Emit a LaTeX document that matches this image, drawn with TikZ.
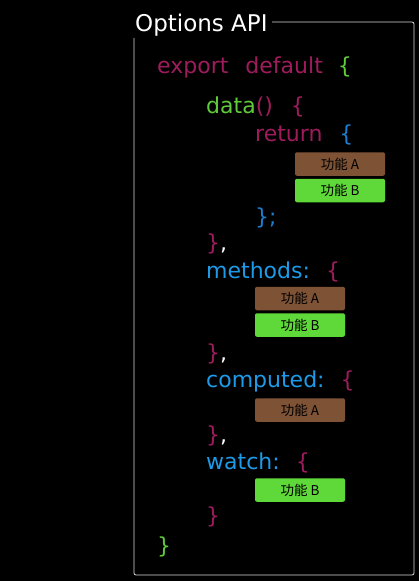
\documentclass[tikz,border=0pt]{standalone}
\usepackage{fontspec}
\setmainfont{DejaVu Sans}
\newfontfamily\cjk{Noto Sans CJK SC}
\usetikzlibrary{positioning}
\definecolor{pk}{HTML}{9E1C5C}
\definecolor{gn}{HTML}{5FCB3A}
\definecolor{bl}{HTML}{1E9BE8}
\definecolor{dbl}{HTML}{1A7FD0}
\definecolor{brn}{HTML}{7E5235}
\definecolor{lgn}{HTML}{5FD83A}

\begin{document}
\begin{tikzpicture}[x=1pt,y=-1pt,
  code/.style={anchor=base west,inner sep=0pt,font=\fontsize{22}{24}\selectfont},
  feat/.style={rounded corners=2pt,minimum width=90pt,minimum height=23.5pt,inner sep=0pt,
    font=\cjk\fontsize{13.5}{14}\selectfont,text=black},
  fa/.style={feat,fill=brn},
  fb/.style={feat,fill=lgn}]
\fill[black] (0,0) rectangle (419,581);
\useasboundingbox (0,0) rectangle (419,581);
% title and frame
\node[anchor=base west,inner sep=0pt,text=white,font=\fontsize{23}{25}\selectfont] (title) at (135,31) {Options API};
\draw[white!85!black,line width=.8pt,rounded corners=2pt] (272,22) -- (414,22) -- (414,575) -- (134,575) -- (134,38);
% code
\node[code] (exp) at (157,73) {\color{pk}export\hspace{17pt}default\hspace{15pt}\color{gn}\{};
\node[code] (data) at (206,113) {\color{gn}data\color{pk}()\hspace{18pt}\{};
\node[code] (ret) at (255,141) {\color{pk}return\hspace{17pt}\color{dbl}\{};
\node[fa] (a1) at (340,164) {功能 A};
\node[fb] (b1) at (340,190.5) {功能 B};
\node[code] (retend) at (255,224) {\color{dbl}\};};
\node[code] (dataend) at (206,250) {\color{pk}\}\color{white},};
\node[code] (meth) at (206,278) {\color{bl}methods:\hspace{16pt}\color{pk}\{};
\node[fa] (a2) at (300,298.5) {功能 A};
\node[fb] (b2) at (300,325) {功能 B};
\node[code] (methend) at (206,360) {\color{pk}\}\color{white},};
\node[code] (comp) at (206,387) {\color{bl}computed:\hspace{16pt}\color{pk}\{};
\node[fa] (a3) at (300,410) {功能 A};
\node[code] (compend) at (206,442) {\color{pk}\}\color{white},};
\node[code] (watch) at (206,469) {\color{bl}watch:\hspace{16pt}\color{pk}\{};
\node[fb] (b4) at (300,490) {功能 B};
\node[code] (watchend) at (206,523) {\color{pk}\}};
\node[code] (expend) at (157,553) {\color{gn}\}};
\end{tikzpicture}
\end{document}
